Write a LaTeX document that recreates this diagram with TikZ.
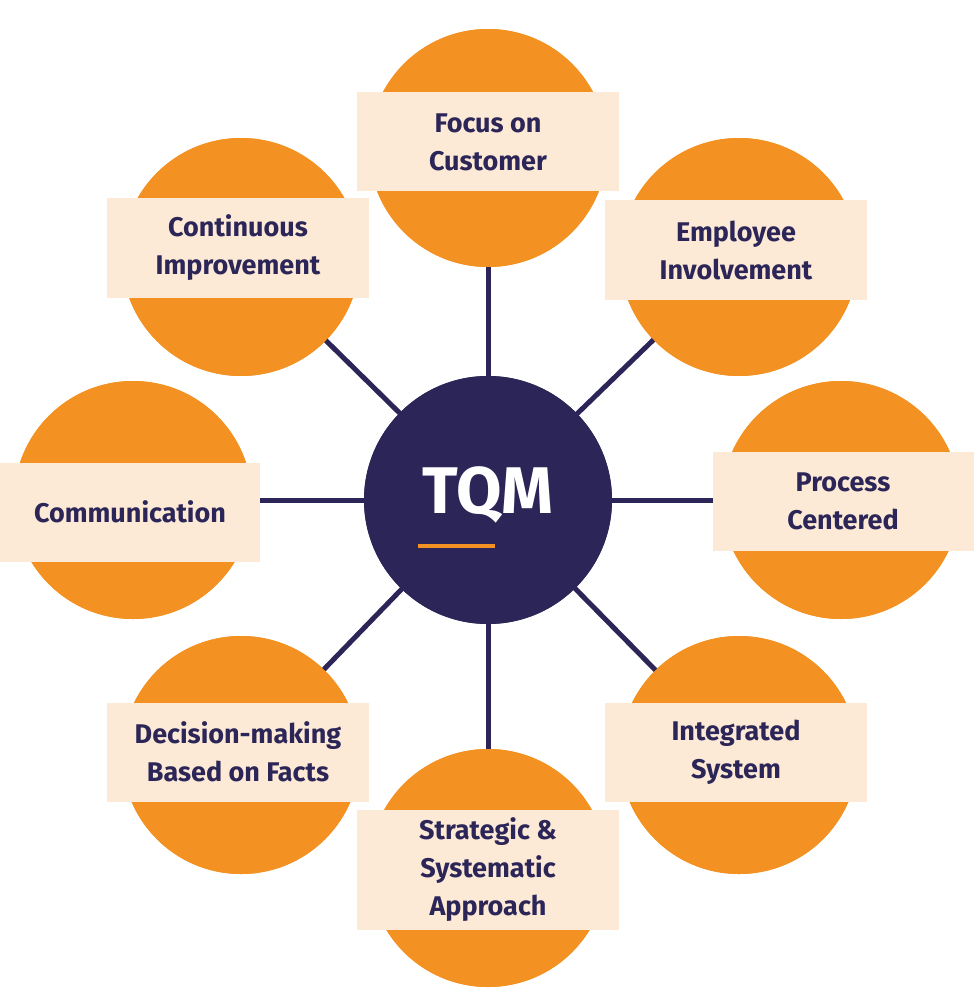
\documentclass[tikz,border=0pt]{standalone}
\usepackage{fontspec}
\setmainfont{Fira Sans}
\definecolor{navy}{HTML}{2B2657}
\definecolor{orng}{HTML}{F39223}
\definecolor{peach}{HTML}{FCE9D6}
\begin{document}
\begin{tikzpicture}[x=1pt,y=-1pt,
  petal/.style={circle,fill=orng,minimum size=238pt,inner sep=0pt},
  lbl/.style={fill=peach,minimum width=262pt,minimum height=99pt,align=center,text=navy,font=\fontsize{27}{38}\selectfont\bfseries},
  conn/.style={draw=navy,line width=5pt}]
\useasboundingbox (0,0) rectangle (974,1000);
\node[circle,fill=navy,minimum size=248pt,inner sep=0pt] (c) at (488,500) {};
\foreach \n/\x/\y in {t/488/148,tr/739/257,r/841/500,br/739/755,b/488/868,bl/241/755,l/133/500,tl/241/257}
  \node[petal] (\n) at (\x,\y) {};
\foreach \n in {t,tr,r,br,b,bl,l,tl}
  \begin{pgfonlayer}{main}\end{pgfonlayer};
\begin{scope}
\foreach \n in {t,tr,r,br,b,bl,l,tl} \draw[conn] (c.center) -- (\n.center);
\end{scope}
\node[circle,fill=navy,minimum size=248pt,inner sep=0pt] (c2) at (488,500) {};
\foreach \n in {t,tr,r,br,b,bl,l,tl}
  \node[petal] (p\n) at (\n) {};
\node[lbl] (lt) at (488,142) {Focus on\\Customer};
\node[lbl] (ltl) at (238,248) {Continuous\\Improvement};
\node[lbl] (ltr) at (736,250) {Employee\\Involvement};
\node[lbl,minimum width=261pt] (lr) at (843,501) {Process\\Centered};
\node[lbl,minimum width=260pt] (ll) at (130,512) {Communication};
\node[lbl] (lbl) at (238,752) {Decision-making\\Based on Facts};
\node[lbl] (lbr) at (736,752) {Integrated\\System};
\node[lbl,minimum height=120pt] (lb) at (488,870) {Strategic \&\\Systematic\\Approach};
\node[text=white,font=\fontsize{66}{70}\selectfont\bfseries] (tqm) at (488,495) {TQM};
\coordinate (u1) at (418,546); \coordinate (u2) at (495,546);
\draw[orng,line width=3.5pt] (u1) -- (u2);
\end{tikzpicture}
\end{document}
